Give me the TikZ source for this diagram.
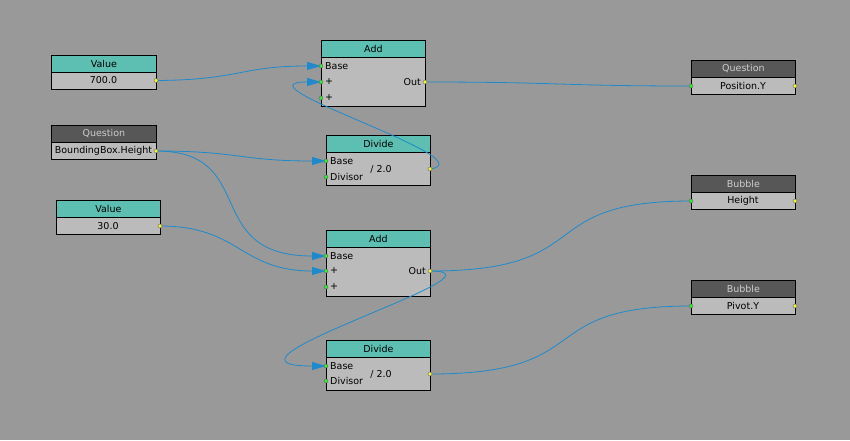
\documentclass[tikz,border=0pt]{standalone}
\usepackage{fontspec}
\setmainfont{DejaVu Sans}
\usetikzlibrary{arrows.meta}
\definecolor{bg}{HTML}{999999}
\definecolor{teal}{HTML}{5CBFB1}
\definecolor{dark}{HTML}{575757}
\definecolor{body}{HTML}{BBBBBB}
\definecolor{wire}{HTML}{1F8ACB}
\definecolor{pin}{HTML}{33EE33}
\definecolor{pout}{HTML}{F5F53A}
\tikzset{x=1pt,y=-1pt,
 hd/.style={draw=black,fill=teal,line width=0.8pt,font=\fontsize{9.5}{10}\selectfont,text=black,inner sep=0pt,anchor=north west},
 hdq/.style={hd,fill=dark,text=black!20},
 bd/.style={draw=black,fill=body,line width=0.8pt,inner sep=0pt,anchor=north west},
 lbl/.style={font=\fontsize{9.5}{10}\selectfont,inner sep=0pt,text=black},
 ip/.style={circle,draw=black!60,fill=pin,minimum size=4pt,inner sep=0pt},
 op/.style={circle,draw=black!60,fill=pout,minimum size=4pt,inner sep=0pt},
 w/.style={draw=wire,line width=0.8pt,-{Triangle[length=14pt,width=8pt,fill=wire]}},
 wn/.style={draw=wire,line width=0.8pt}}
\newcommand\gbox[8]{% name, x, y, w, header h, body h, title, style
 \node[#8,minimum width=#4pt,minimum height=#5pt] (#1h) at (#2,#3) {#7};
 \node[bd,minimum width=#4pt,minimum height=#6pt] (#1b) at (#2,#3+#5) {};}
\begin{document}
\begin{tikzpicture}
\useasboundingbox[fill=bg] (0,0) rectangle (850,440);
\gbox{v1}{51}{55}{105}{17}{17}{Value}{hd}
\node[lbl] (v1t) at (103.5,80.5) {700.0};
\gbox{q1}{51}{125}{105}{17}{17}{Question}{hdq}
\node[lbl] (q1t) at (103.5,151) {BoundingBox.Height};
\gbox{v2}{56}{200}{104}{17}{17}{Value}{hd}
\node[lbl] (v2t) at (108,226) {30.0};
\gbox{a1}{321}{40}{104}{17}{49}{Add}{hd}
\node[lbl,anchor=west] (a1l1) at (325,66) {Base};
\node[lbl,anchor=west] (a1l2) at (325,82) {+};
\node[lbl,anchor=west] (a1l3) at (325,98) {+};
\node[lbl,anchor=east] (a1lo) at (421,82) {Out};
\gbox{d1}{326}{135}{104}{17}{33}{Divide}{hd}
\node[lbl,anchor=west] (d1l1) at (330,161) {Base};
\node[lbl,anchor=west] (d1l2) at (330,177) {Divisor};
\node[lbl] (d1v) at (381,169) {/ 2.0};
\gbox{a2}{326}{230}{104}{17}{49}{Add}{hd}
\node[lbl,anchor=west] (a2l1) at (330,256) {Base};
\node[lbl,anchor=west] (a2l2) at (330,271) {+};
\node[lbl,anchor=west] (a2l3) at (330,287) {+};
\node[lbl,anchor=east] (a2lo) at (426,271) {Out};
\gbox{d2}{326}{340}{104}{17}{33}{Divide}{hd}
\node[lbl,anchor=west] (d2l1) at (330,366) {Base};
\node[lbl,anchor=west] (d2l2) at (330,381) {Divisor};
\node[lbl] (d2v) at (381,374) {/ 2.0};
\gbox{q2}{691}{60}{104}{17}{17}{Question}{hdq}
\node[lbl] (q2t) at (743,86) {Position.Y};
\gbox{b1}{691}{175}{104}{17}{17}{Bubble}{hdq}
\node[lbl] (b1t) at (743,201) {Height};
\gbox{b2}{691}{280}{104}{17}{17}{Bubble}{hdq}
\node[lbl] (b2t) at (743,306) {Pivot.Y};
\coordinate (v1o) at (156,80.5);
\coordinate (q1o) at (156,151);
\coordinate (v2o) at (160,226);
\coordinate (a1i1) at (321,66); \coordinate (a1i2) at (321,82); \coordinate (a1i3) at (321,98);
\coordinate (a1o) at (425,82);
\coordinate (d1i1) at (326,161); \coordinate (d1i2) at (326,177); \coordinate (d1o) at (430,169);
\coordinate (a2i1) at (326,256); \coordinate (a2i2) at (326,271); \coordinate (a2i3) at (326,287);
\coordinate (a2o) at (430,271);
\coordinate (d2i1) at (326,366); \coordinate (d2i2) at (326,381); \coordinate (d2o) at (430,374);
\coordinate (q2i) at (691,86); \coordinate (q2o) at (795,86);
\coordinate (b1i) at (691,201); \coordinate (b1o) at (795,201);
\coordinate (b2i) at (691,306); \coordinate (b2o) at (795,306);
\draw[w] (v1o) .. controls (240,80) and (240,66) .. (a1i1);
\draw[wn] (a1o) .. controls (560,82) and (560,86) .. (q2i);
\draw[w] (d1o) .. controls (490,160) and (230,82) .. (a1i2);
\draw[w] (q1o) .. controls (240,151) and (240,161) .. (d1i1);
\draw[w] (q1o) .. controls (260,151) and (200,256) .. (a2i1);
\draw[w] (v2o) .. controls (240,226) and (240,271) .. (a2i2);
\draw[wn] (a2o) .. controls (600,271) and (530,201) .. (b1i);
\draw[w] (a2o) .. controls (520,271) and (190,366) .. (d2i1);
\draw[wn] (d2o) .. controls (600,374) and (530,306) .. (b2i);
\foreach \p in {a1i1,a1i2,a1i3,d1i1,d1i2,a2i1,a2i2,a2i3,d2i1,d2i2,q2i,b1i,b2i}
  \node[ip] at (\p) {};
\foreach \p in {v1o,q1o,v2o,a1o,d1o,a2o,d2o,q2o,b1o,b2o}
  \node[op] at (\p) {};
\end{tikzpicture}
\end{document}
